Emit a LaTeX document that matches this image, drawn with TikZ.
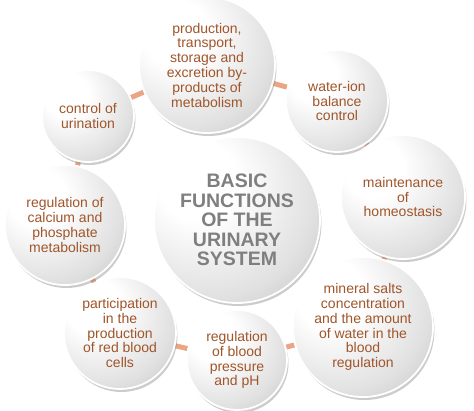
\documentclass[tikz,border=0pt]{standalone}
\usepackage{fontspec}
\setmainfont{Liberation Sans}
\usetikzlibrary{shadows,backgrounds}
\definecolor{fntext}{HTML}{A0552A}
\definecolor{linkpeach}{HTML}{EBA584}
\definecolor{coregray}{HTML}{7F7F7F}
\pgfdeclareradialshading{bubbleshade}{\pgfpoint{-14bp}{14bp}}{%
  color(0bp)=(white); color(12bp)=(white); color(32bp)=(black!12); color(48bp)=(black!27); color(62bp)=(black!40); color(80bp)=(black!42)}
\tikzstyle{bubble} = [circle, draw=white, line width=1.8pt, shading=bubbleshade,
  drop shadow={opacity=0.4, shadow xshift=1.5pt, shadow yshift=-3pt},
  align=center, inner sep=0pt]
\tikzstyle{fn} = [bubble, text=fntext, font=\fontsize{14}{14.8}\selectfont]
\tikzstyle{link} = [linkpeach, line width=5pt]

\begin{document}
\begin{tikzpicture}[x=1pt, y=-1pt]
  \useasboundingbox (0,0) rectangle (474,410);
  \node[bubble, minimum size=166pt, text=coregray, font=\fontsize{19.5}{19.5}\selectfont\bfseries] (core) at (237,220) {BASIC\\FUNCTIONS\\OF THE\\URINARY\\SYSTEM};
  \node[fn, minimum size=136pt] (waste) at (207,65) {production,\\transport,\\storage and\\excretion by-\\products of\\metabolism};
  \node[fn, minimum size=92pt] (urin) at (88,116) {control of\\urination};
  \node[fn, minimum size=102pt] (ion) at (337,101) {water-ion\\balance\\control};
  \node[fn, minimum size=124pt] (homeo) at (403,197) {maintenance\\of\\homeostasis};
  \node[fn, minimum size=140pt] (salt) at (363,327) {mineral salts\\concentration\\and the amount\\of water in the\\blood\\regulation};
  \node[fn, minimum size=100pt] (press) at (237,360) {regulation\\of blood\\pressure\\and pH};
  \node[fn, minimum size=112pt] (rbc) at (120,333) {participation\\in the\\production\\of red blood\\cells};
  \node[fn, minimum size=120pt] (calc) at (65,225) {regulation of\\calcium and\\phosphate\\metabolism};
  \begin{scope}[on background layer]
    \foreach \a/\b in {urin/waste, waste/ion, ion/homeo, homeo/salt, salt/press, press/rbc, rbc/calc, calc/urin}
      \draw[link] (\a) -- (\b);
  \end{scope}
\end{tikzpicture}
\end{document}
